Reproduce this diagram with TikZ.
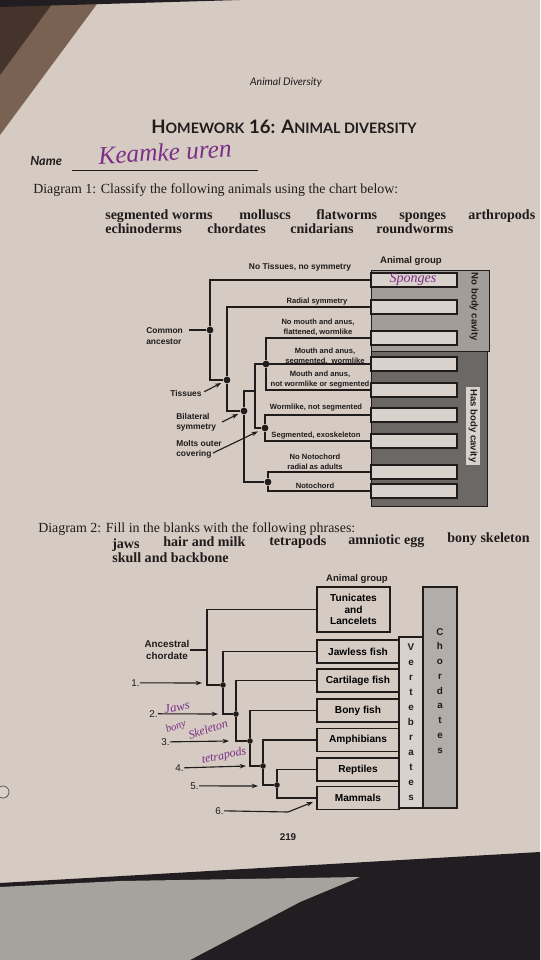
\documentclass[tikz,border=0pt]{standalone}
\usepackage{fontspec}
\setmainfont{Liberation Serif}
\setsansfont{Liberation Sans}
\newfontfamily\titulofonte{Lato}
\usetikzlibrary{arrows.meta}

\definecolor{papel}{HTML}{D5CBC3}
\definecolor{tinta}{HTML}{1F1C1B}
\definecolor{cinzaclaro}{HTML}{A39D99}
\definecolor{cinzaescuro}{HTML}{6C6866}
\definecolor{cinzamedio}{HTML}{B3ADA9}
\definecolor{caixa}{HTML}{D9D2CC}
\definecolor{roxo}{HTML}{7B2E86}
\definecolor{tapete}{HTML}{A5A39E}
\definecolor{sombra}{HTML}{221D20}
\definecolor{sombramarrom}{HTML}{7A6253}
\definecolor{sombraforte}{HTML}{45342B}

\newcommand{\minis}[1]{{\fontsize{10.2}{10.5}\selectfont #1}}

\begin{document}
\begin{tikzpicture}[x=0.025cm, y=-0.025cm,
	ramo/.style={draw=tinta, line width=1.9pt},
	ramofino/.style={draw=tinta, line width=1.3pt},
	ponto/.style={circle, fill=tinta, inner sep=0pt, minimum size=0.17cm},
	pontinho/.style={circle, fill=tinta, inner sep=0pt, minimum size=0.14cm},
	resposta/.style={draw=tinta, fill=caixa, line width=1pt, minimum width=2.15cm, minimum height=0.35cm, inner sep=0pt},
	grupo/.style={draw=tinta, fill=papel, line width=1pt, minimum width=2.05cm, minimum height=0.575cm, inner sep=0pt, font=\sffamily\bfseries\fontsize{7.2}{8.2}\selectfont},
	rotulo/.style={font=\sffamily\bfseries\fontsize{5.4}{7.1}\selectfont, align=center, inner sep=0pt, text=tinta},
	lateral/.style={font=\sffamily\bfseries\fontsize{6}{7.3}\selectfont, align=left, inner sep=0pt, anchor=west, text=tinta},
	seta/.style={draw=tinta, line width=0.8pt, -{Stealth[length=4.5pt, width=3.2pt]}},
	letra/.style={font=\sffamily\bfseries\fontsize{7}{7}\selectfont, inner sep=0pt, anchor=mid, text=tinta},
	lista/.style={font=\bfseries\fontsize{10}{10}\selectfont, anchor=mid west, inner sep=0pt, text=tinta},
	frase/.style={font=\fontsize{9.9}{10}\selectfont, anchor=mid west, inner sep=0pt, text=tinta},
	num/.style={font=\sffamily\fontsize{7}{7}\selectfont, anchor=mid west, inner sep=0pt, text=tinta},
	caneta/.style={text=roxo, inner sep=0pt}
	]
	\useasboundingbox (0,0) rectangle (540,960);

	% fundo da foto
	\fill[papel] (0,0) rectangle (540,960);
	\fill[sombramarrom] (0,0) -- (100,0) -- (0,135) -- cycle;
	\fill[sombraforte] (0,0) -- (55,0) -- (0,75) -- cycle;
	\fill[sombra] (0,0) -- (240,0) -- (0,7) -- cycle;
	\fill[sombra] (0,883) -- (540,852) -- (540,960) -- (0,960) -- cycle;
	\fill[tapete] (0,887) -- (120,881) -- (360,877) -- (300,902) -- (190,960) -- (0,960) -- cycle;
	\filldraw[fill=caixa, draw=tinta!70, line width=0.6pt] (3,792) circle (6);

	% cabecalho
	\node[font=\titulofonte\itshape\fontsize{7.5}{8}\selectfont, text=tinta] (cab) at (286,83) {Animal Diversity};
	\node[font=\titulofonte\bfseries\fontsize{13.2}{14}\selectfont, text=tinta] (tit) at (284,127)
		{H\minis{OMEWORK} 16: A\minis{NIMAL DIVERSITY}};
	\node[font=\titulofonte\bfseries\itshape\fontsize{9}{9}\selectfont, anchor=mid west, inner sep=0pt, text=tinta] (nm) at (30,162) {Name};
	\coordinate (nl1) at (72,170);
	\coordinate (nl2) at (258,170);
	\draw[tinta, line width=0.6pt] (nl1) -- (nl2);
	\node[caneta, font=\itshape\fontsize{18}{18}\selectfont, rotate=3] (nome) at (165,152) {Keamke uren};

	\node[frase] (d1) at (33,190) {Diagram 1: Classify the following animals using the chart below:};
	\node[lista] (w1) at (105,216) {segmented worms};
	\node[lista] (w2) at (239,216) {molluscs};
	\node[lista] (w3) at (316,216) {flatworms};
	\node[lista] (w4) at (399,216) {sponges};
	\node[lista] (w5) at (468,216) {arthropods};
	\node[lista] (w6) at (105,230) {echinoderms};
	\node[lista] (w7) at (207,230) {chordates};
	\node[lista] (w8) at (290,230) {cnidarians};
	\node[lista] (w9) at (376,230) {roundworms};

	% diagrama 1
	\filldraw[fill=cinzaescuro, draw=tinta, line width=0.6pt] (371,351) rectangle (487,506);
	\filldraw[fill=cinzaclaro, draw=tinta, line width=0.6pt] (371,270) rectangle (489,351);
	\node[rotulo, font=\sffamily\bfseries\fontsize{6.8}{7}\selectfont] (gr1) at (411,261) {Animal group};
	\node[rotulo, font=\sffamily\bfseries\fontsize{6.8}{7}\selectfont, rotate=-90] (semcav) at (474,307) {No body cavity};
	\node[rotulo, font=\sffamily\bfseries\fontsize{6.8}{7}\selectfont, rotate=-90, fill=caixa, inner xsep=2pt, minimum height=0.35cm] (comcav) at (473,426) {Has body cavity};

	\foreach \y [count=\i] in {280,307,338,364,390,415,441,472,491}
		\node[resposta] (g\i) at (414,\y) {};
	\node[caneta, font=\itshape\fontsize{10}{10}\selectfont] (resp1) at (413,279) {Sponges};

	\node[ponto] (anc) at (210,330) {};
	\node[ponto] (tec) at (227,380) {};
	\node[ponto] (bil) at (244,411) {};
	\node[ponto] (lof) at (266,364) {};
	\node[ponto] (ecd) at (265,428) {};
	\node[ponto] (deu) at (268,482) {};
	\coordinate (pro) at (255,391);
	\coordinate (ini) at (189,330);

	\draw[ramo] (ini) -- (anc);
	\draw[ramo] (g1.west) -| (anc);
	\draw[ramo] (anc) |- (tec);
	\draw[ramo] (g2.west) -| (tec);
	\draw[ramo] (tec) |- (bil);
	\draw[ramo] (bil) |- (pro);
	\draw[ramo] (g4.west) -| (pro);
	\draw[ramo] (pro) |- (ecd);
	\draw[ramo] (g3.west) -| (lof) |- (g5.west);
	\draw[ramo] (g6.west) -| (ecd) |- (g7.west);
	\draw[ramo] (bil) |- (deu);
	\draw[ramo] (g8.west) -| (deu) |- (g9.west);

	\node[rotulo, font=\sffamily\bfseries\fontsize{6}{7}\selectfont] (r0) at (300,267) {No Tissues, no symmetry};
	\node[rotulo] (r1) at (317,302) {Radial symmetry};
	\node[rotulo] (r2) at (318,327) {No mouth and anus,\\flattened, wormlike};
	\node[rotulo] (r3) at (325,357) {Mouth and anus,\\segmented,\ \ wormlike};
	\node[rotulo] (r4) at (320,380) {Mouth and anus,\\not wormlike or segmented};
	\node[rotulo] (r5) at (316,408) {Wormlike, not segmented};
	\node[rotulo] (r6) at (316,436) {Segmented, exoskeleton};
	\node[rotulo] (r7) at (315,462) {No Notochord\\radial as adults};
	\node[rotulo] (r8) at (315,486) {Notochord};

	\node[lateral] (lanc) at (146,336) {Common\\ancestor};
	\node[lateral] (ltec) at (170,393) {Tissues};
	\node[lateral] (lbil) at (176,422) {Bilateral\\symmetry};
	\node[lateral] (lmud) at (176,449) {Molts outer\\covering};
	\coordinate (sbil) at (222,422);
	\coordinate (smud) at (213,453);
	\draw[seta, shorten <=2pt, shorten >=2pt] (ltec.east) -- (tec);
	\draw[seta, shorten >=2pt] (sbil) -- (bil);
	\draw[seta, shorten >=3pt] (smud) -- (ecd);

	% diagrama 2
	\node[frase] (d2) at (38,529) {Diagram 2: Fill in the blanks with the following phrases:};
	\node[lista] (f1) at (112,545) {jaws};
	\node[lista] (f2) at (163,543) {hair and milk};
	\node[lista] (f3) at (269,542) {tetrapods};
	\node[lista] (f4) at (348,541) {amniotic egg};
	\node[lista] (f5) at (447,539) {bony skeleton};
	\node[lista] (f6) at (112,559) {skull and backbone};
	\node[rotulo, font=\sffamily\bfseries\fontsize{6.8}{7}\selectfont] (gr2) at (357,579) {Animal group};

	\filldraw[fill=cinzamedio, draw=tinta, line width=0.8pt] (423,587) rectangle (457,808);
	\filldraw[fill=caixa, draw=tinta, line width=0.8pt] (399,637) rectangle (423,808);
	\foreach \l [count=\i] in {C,h,o,r,d,a,t,e,s}
		\node[letra] (cor\i) at (440,{617.25+14.75*\i}) {\l};
	\foreach \l [count=\i] in {V,e,r,t,e,b,r,a,t,e,s}
		\node[letra] (ver\i) at (411,{632+15*\i}) {\l};

	\node[grupo, minimum width=1.825cm, minimum height=1.125cm, align=center] (tun) at (353.5,609.5) {Tunicates\\and\\Lancelets};
	\node[grupo] (sem) at (358,651.5) {Jawless fish};
	\node[grupo] (car) at (358,680.5) {Cartilage fish};
	\node[grupo] (oss) at (358,710.5) {Bony fish};
	\node[grupo] (anf) at (358,740) {Amphibians};
	\node[grupo] (rep) at (358,769.5) {Reptiles};
	\node[grupo] (mam) at (358,798) {Mammals};

	\coordinate (raiz) at (207,650);
	\node[pontinho] (n1) at (223,685) {};
	\node[pontinho] (n2) at (236,714) {};
	\node[pontinho] (n3) at (250,741) {};
	\node[pontinho] (n4) at (263,766) {};
	\node[pontinho] (n5) at (277,785) {};

	\draw[ramofino] (tun.west) -| (raiz) |- (n1);
	\draw[ramofino] (sem.west) -| (n1) |- (n2);
	\draw[ramofino] (car.west) -| (n2) |- (n3);
	\draw[ramofino] (oss.west) -| (n3) |- (n4);
	\draw[ramofino] (anf.west) -| (n4) |- (n5);
	\draw[ramofino] (rep.west) -| (n5) |- (mam.west);

	\node[lateral, font=\sffamily\bfseries\fontsize{7}{9.2}\selectfont, align=center, anchor=center] (lanc2) at (167,650) {Ancestral\\chordate};
	\draw[ramofino] (lanc2.east) -- (raiz);

	\node[num] (p1) at (131,683) {1.};
	\node[num] (p2) at (149,714) {2.};
	\node[num] (p3) at (161,742) {3.};
	\node[num] (p4) at (175,768) {4.};
	\node[num] (p5) at (190,786) {5.};
	\node[num] (p6) at (215,811) {6.};
	\coordinate (a1) at (202,683);
	\coordinate (a2) at (218,714);
	\coordinate (a3) at (229,741);
	\coordinate (a4) at (246,766);
	\coordinate (a5) at (258,786);
	\coordinate (a6) at (288,812);
	\coordinate (b6) at (313,802);
	\draw[seta] (p1.east) -- (a1);
	\draw[seta] (p2.east) -- (a2);
	\draw[seta] (p3.east) -- (a3);
	\draw[seta] (p4.east) -- (a4);
	\draw[seta] (p5.east) -- (a5);
	\draw[seta] (p6.east) -- (a6) -- (b6);

	\node[caneta, font=\itshape\fontsize{9}{9}\selectfont, rotate=10] (resp2) at (177,707) {Jaws};
	\node[caneta, font=\itshape\fontsize{7.5}{8}\selectfont, rotate=20] (resp3a) at (176,727) {bony};
	\node[caneta, font=\itshape\fontsize{8.5}{9}\selectfont, rotate=18] (resp3b) at (208,729) {Skeleton};
	\node[caneta, font=\itshape\fontsize{8.5}{9}\selectfont, rotate=12] (resp4) at (224,756) {tetrapods};

	\node[font=\sffamily\bfseries\fontsize{7}{7}\selectfont, text=tinta] (pag) at (288,837) {219};
\end{tikzpicture}
\end{document}
